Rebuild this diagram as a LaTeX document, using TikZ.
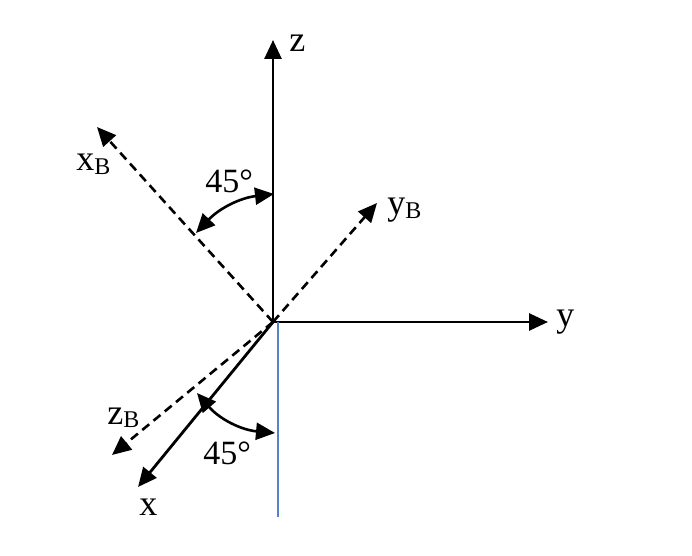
\documentclass[tikz,border=0pt]{standalone}
\usepackage{fontspec}
\setmainfont{Liberation Serif}
\usetikzlibrary{arrows.meta}
\definecolor{planeblue}{RGB}{84,130,196}
\newcommand{\sub}[1]{\raisebox{-1.8pt}{\fontsize{12}{14}\selectfont #1}}
\tikzset{
>={Triangle[length=9.5pt,width=8.5pt]}, % big filled heads
axis/.style={->, line width=1.4pt}, % the fixed frame
frameB/.style={->, line width=1.3pt, dash pattern=on 4.5pt off 2.8pt}, % the rotated frame B
angle/.style={<->, line width=1.3pt}, % the 45 degree marks
lbl/.style={anchor=base west, inner sep=0pt, font=\fontsize{18}{22}\selectfont}, % axis names
deg/.style={anchor=base west, inner sep=0pt, font=\fontsize{17}{20}\selectfont}, % angle values
}

\begin{document}
\begin{tikzpicture}[x=0.5pt, y=-0.5pt]
        \useasboundingbox (0,0) rectangle (692,556);

        \coordinate (O) at (273,322);
        \coordinate (zT) at (273,40);
        \coordinate (yT) at (548,322);
        \coordinate (xT) at (138,487);
        \coordinate (xbT) at (97,127);
        \coordinate (ybT) at (377,203);
        \coordinate (zbT) at (112,455);
        \coordinate (Ob) at (278,322);
        \coordinate (blueT) at (278,517);

        % fixed axes
        \draw[axis] (O) -- (zT);
        \draw[axis] (O) -- (yT);
        \draw[axis] (O) -- (xT);
        \draw[planeblue, line width=0.9pt] (Ob) -- (blueT);

        % frame B
        \draw[frameB] (O) -- (xbT);
        \draw[frameB] (O) -- (ybT);
        \draw[frameB] (O) -- (zbT);

        % angles
        \coordinate (a1) at (274,194);
        \coordinate (a2) at (196,233);
        \coordinate (b1) at (197,393);
        \coordinate (b2) at (275,433);
        \draw[angle] (a1) to[bend right=20] (a2);
        \draw[angle] (b1) to[bend right=22] (b2);

        % labels
        \node[lbl] (zlbl) at (289,52) {z};
        \node[lbl] (xblbl) at (76,171) {x\sub{B}};
        \node[deg] (ang1) at (205,193) {45°};
        \node[lbl] (yblbl) at (387,215) {y\sub{B}};
        \node[lbl] (ylbl) at (556,327) {y};
        \node[lbl] (zblbl) at (107,424) {z\sub{B}};
        \node[deg] (ang2) at (203,465) {45°};
        \node[lbl] (xlbl) at (139,516) {x};
      \end{tikzpicture}
\end{document}
